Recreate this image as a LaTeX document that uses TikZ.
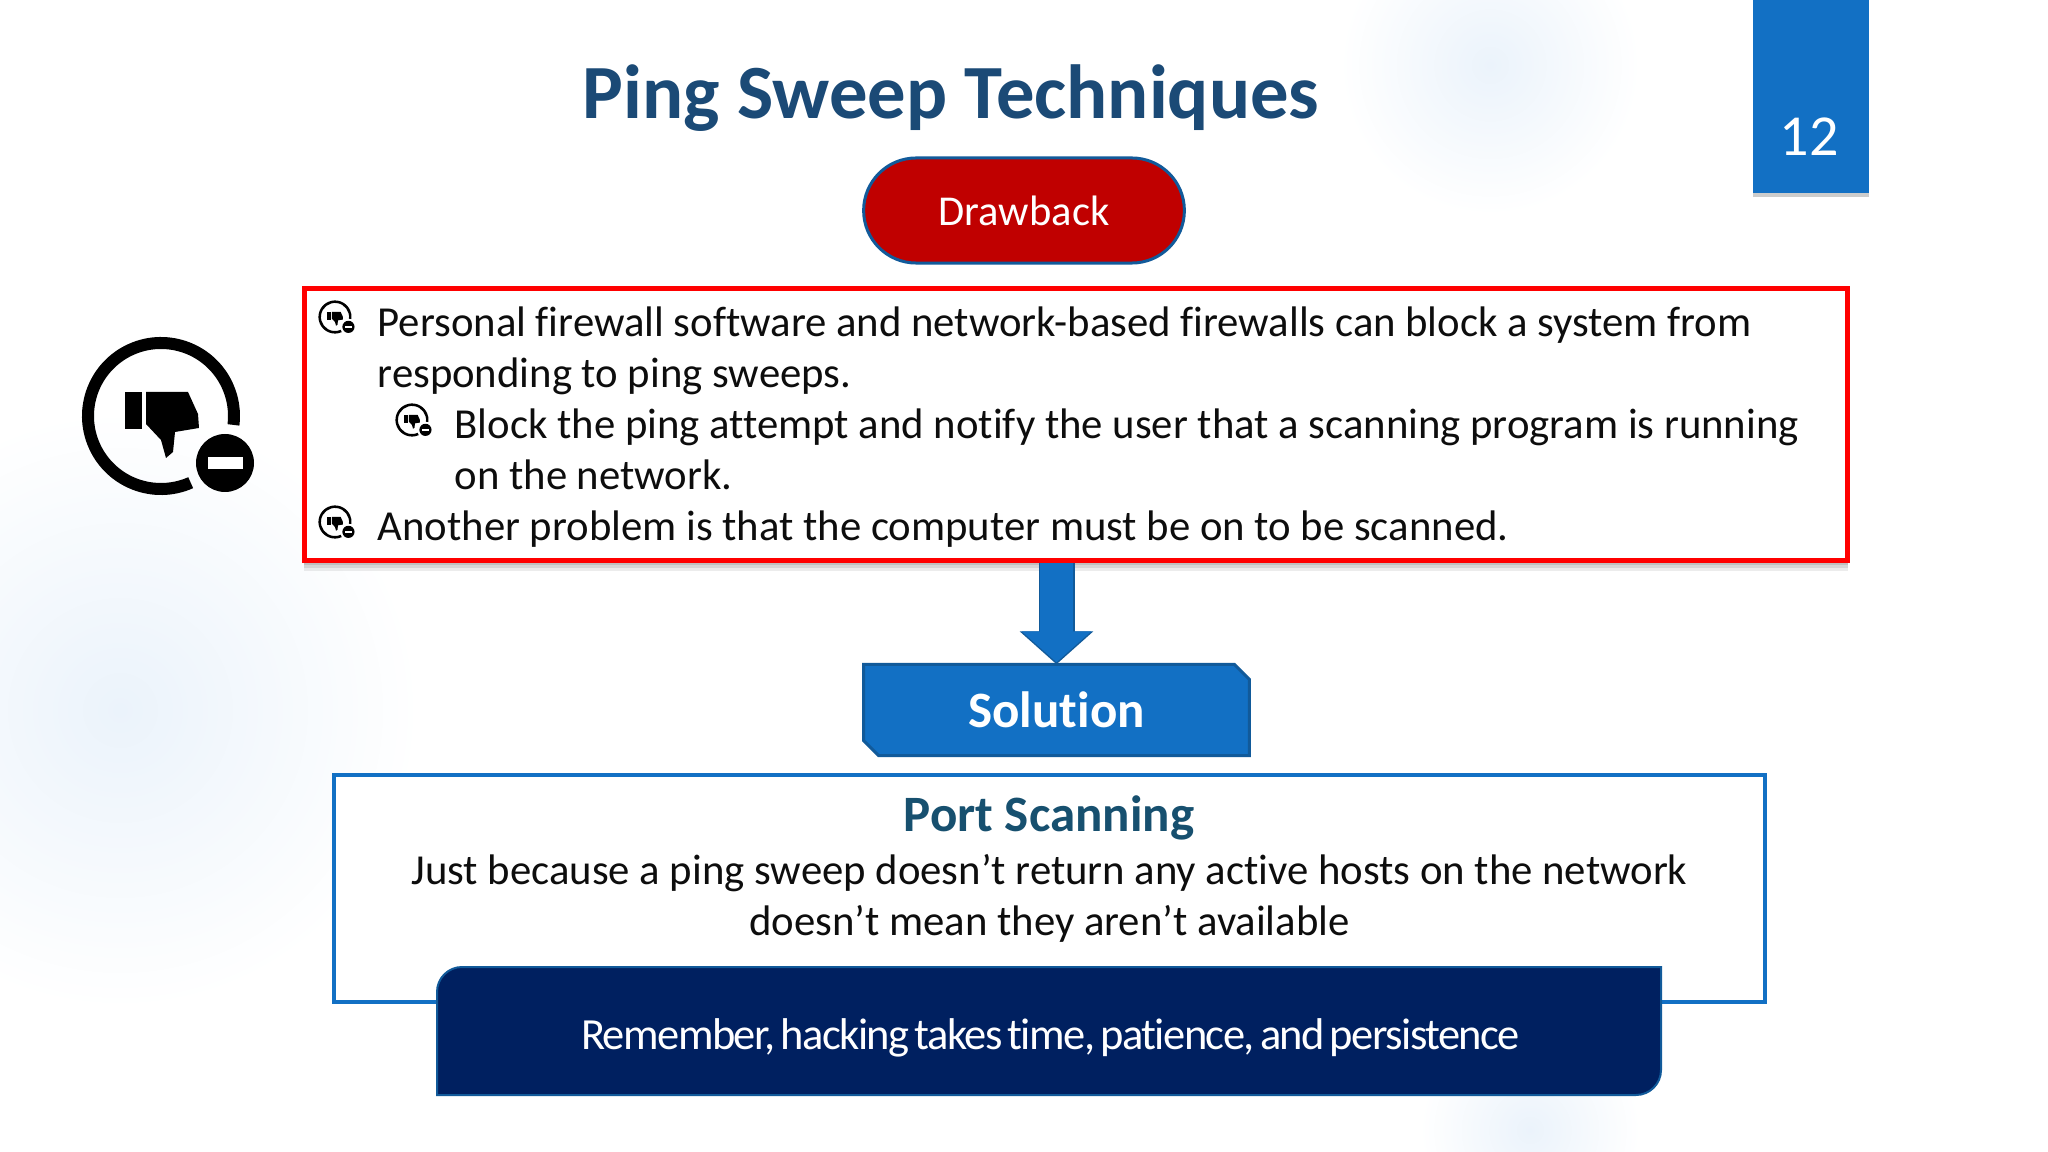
\documentclass[tikz,border=0pt]{standalone}
\usepackage{fontspec}
\setmainfont[Ligatures=NoCommon]{Carlito}
\newfontfamily\remfont[Ligatures=NoCommon,LetterSpace=-3.5,WordSpace=0.6]{Carlito}
\usetikzlibrary{positioning, shapes.misc, shadows, arrows.meta, backgrounds}

\definecolor{tabblue}{HTML}{1270C4}
\definecolor{edgeblue}{HTML}{115A9A}
\definecolor{titleblue}{HTML}{1B4A76}
\definecolor{headteal}{HTML}{17506F}
\definecolor{navybox}{HTML}{002060}
\definecolor{dropred}{HTML}{C00000}
\definecolor{mist}{HTML}{EBF3FB}

\tikzset{
	bodytext/.style={inner sep=0pt, align=left, font=\fontsize{12.15}{14.5}\selectfont, text=black!95},
	softblob/.style={inner color=mist, outer color=white},
	alertbox/.style={draw=red, line width=.05cm, fill=white,
		drop shadow={shadow xshift=0cm, shadow yshift=-.1cm, opacity=.15},
		drop shadow={shadow xshift=0cm, shadow yshift=-.07cm, opacity=.2},
		drop shadow={shadow xshift=0cm, shadow yshift=-.04cm, opacity=.25}},
	portbox/.style={draw=tabblue, line width=.045cm, fill=white},
	blockarrow/.style={line width=.33cm, draw=tabblue, -{Triangle[length=.31cm, width=.68cm, fill=tabblue]}},
	blockedge/.style={line width=.36cm, draw=edgeblue, -{Triangle[length=.33cm, width=.72cm, fill=edgeblue]}},
	pics/thumbicon/.style={code={
		\fill (66:79) arc (66:367:79) -- (367:67) arc (367:66:67) -- cycle;
		\fill (-36,-24) rectangle (-19,13);
		\fill (-15,-24) -- (27,-24) -- (37,-2) -- (38,12) -- (14,16) -- (12,36) -- (5,42) -- (0,24) -- (-15,8) -- cycle;
		\fill (64,47) circle (29);
		\fill[white] (47,41) rectangle (82,53);
	}}
}

\begin{document}
\begin{tikzpicture}[x=.01cm, y=-.01cm]
	\useasboundingbox (0, 0) rectangle (2048, 1152);

	% background
	\begin{scope}[on background layer]
		\fill[white] (0, 0) rectangle (2048, 1152);
		\shade[softblob] (1490, 65) circle (150);
		\shade[softblob] (120, 710) circle (300);
		\shade[softblob] (1530, 1130) circle (110);
	\end{scope}

	% title and page number
	\node (title) [font=\fontsize{21.8}{26}\selectfont\bfseries, text=titleblue] at (951, 98) {Ping Sweep Techniques};
	\node (pagetab) [fill=tabblue, minimum width=1.16cm, minimum height=1.93cm, drop shadow={shadow xshift=0cm, shadow yshift=-.04cm, opacity=.4}] at (1811, 96.5) {};
	\node (pagenum) [font=\fontsize{16.5}{18}\selectfont, text=white] at (1809, 137) {12};

	% drawback
	\node (drawback) [rounded rectangle, draw=edgeblue, line width=.03cm, fill=dropred, text=white, font=\fontsize{12.1}{14}\selectfont, minimum width=3.44cm, minimum height=1.05cm] at (1024, 210.5) {Drawback};

	% problems
	\node (alert) [alertbox, minimum width=15.43cm, minimum height=2.72cm] at (1076, 424.5) {};
	\node (firsttext) [bodytext, anchor=north west] at (377, 306) {Personal firewall software and network-based firewalls can block a system from\\responding to ping sweeps.};
	\node (subtext) [bodytext, anchor=north west] at (454, 408) {Block the ping attempt and notify the user that a scanning program is running\\on the network.};
	\node (lasttext) [bodytext, anchor=north west] at (377, 510.5) {Another problem is that the computer must be on to be scanned.};
	\foreach \x/\y in {335/317, 412/420, 335/522}
		\pic[scale=.21] at (\x, \y) {thumbicon};
	\pic at (161, 416) {thumbicon};

	% solution
	\node (solution) [minimum width=3.84cm, minimum height=.9cm, inner sep=0pt, text=white, font=\fontsize{14.5}{17}\selectfont\bfseries] at (1056.5, 710) {Solution};
	\begin{scope}[on background layer]
		\draw[draw=edgeblue, line width=.03cm, fill=tabblue] (solution.north west) -- ([xshift=-.15cm]solution.north east) -- ([yshift=-.15cm]solution.north east) -- (solution.south east) -- ([xshift=.15cm]solution.south west) -- ([yshift=.15cm]solution.south west) -- cycle;
	\end{scope}
	\draw[blockedge] (alert.south -| solution.north) -- (solution.north);
	\draw[blockarrow] (alert.south -| solution.north) -- ([yshift=.02cm]solution.north);

	% port scanning
	\node (portbox) [portbox, minimum width=14.3cm, minimum height=2.27cm] at (1049.5, 888.5) {};
	\node (porthead) [font=\fontsize{14.5}{17}\selectfont\bfseries, text=headteal] at (1049, 817.5) {Port Scanning};
	\node (porttext) [bodytext, align=center, anchor=north] at (1049.5, 854) {Just because a ping sweep doesn’t return any active hosts on the network\\doesn’t mean they aren’t available};

	% reminder
	\draw[fill=navybox, draw=edgeblue, line width=.02cm] (437, 1095) -- (437, 992) arc (180:270:25) -- (1661, 967) -- (1661, 1070) arc (0:90:25) -- cycle;
	\node (reminder) [font=\remfont\fontsize{12.65}{16}\selectfont, text=white] at (1050.5, 1038) {Remember, hacking takes time, patience, and persistence};
\end{tikzpicture}
\end{document}
